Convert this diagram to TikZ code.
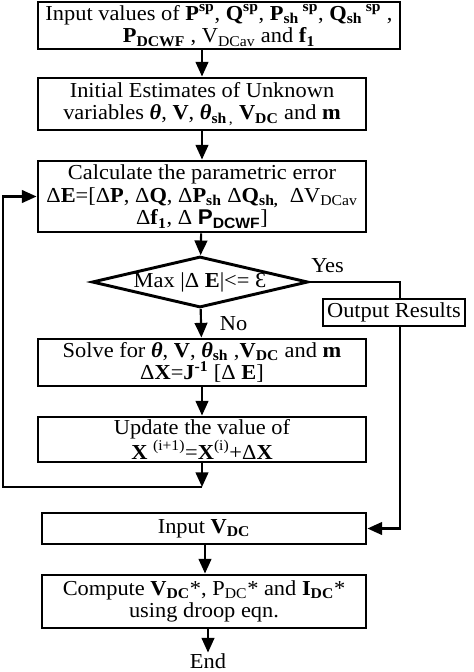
\documentclass[tikz,border=0pt]{standalone}
\usepackage{fontspec}
\setmainfont{Liberation Serif}[FakeStretch=1.05]
\setsansfont{Liberation Sans}[FakeStretch=1.05]
\usetikzlibrary{shapes.geometric,arrows.meta}
\newcommand{\bsb}[2]{\textbf{#1}\textsubscript{\textbf{#2}}}
\newcommand{\bth}{\textbf{\textit{θ}}}
\tikzset{
  blk/.style={draw,line width=2.2pt,align=center,inner sep=1pt,minimum width=#1},
  arr/.style={line width=1.6pt,-{Triangle[length=11pt,width=9.5pt]}},
  lin/.style={line width=1.6pt},
}
\begin{document}
\begin{tikzpicture}[x=0.75pt,y=-0.75pt,font=\fontsize{16}{17}\selectfont]
    \useasboundingbox (0,0) rectangle (474,672);
    \node[blk=271.5pt,minimum height=35.25pt] (inp) at (219,25.5) {Input values of \textbf{P}\textsuperscript{\textbf{sp}}, \textbf{Q}\textsuperscript{\textbf{sp}}, \bsb{P}{sh}\,\textsuperscript{\textbf{sp}}, \bsb{Q}{sh}\,\textsuperscript{\textbf{sp}} ,\\ \bsb{P}{DCWF} , V\textsubscript{DCav} and \bsb{f}{1}};
    \node[blk=246pt,minimum height=39pt] (est) at (202,104) {Initial Estimates of Unknown\\ variables \bth, \textbf{V}, \bth\textsubscript{\textbf{sh}\,,} \bsb{V}{DC} and \textbf{m}};
    \node[blk=246pt,minimum height=53.25pt] (err) at (202,196.5) {Calculate the parametric error\\ Δ\textbf{E}=[Δ\textbf{P}, Δ\textbf{Q}, Δ\bsb{P}{sh} Δ\bsb{Q}{sh,}~ ΔV\textsubscript{DCav}\\ Δ\bsb{f}{1}, Δ {\sffamily\bfseries P\textsubscript{DCWF}}]};
    \node[diamond,draw,line width=2.2pt,inner sep=0pt,minimum width=162pt,minimum height=38.25pt,
          label=center:{Max |Δ \textbf{E}|<= Ɛ}] (chk) at (200,282) {};
    \node[blk=106.5pt,minimum height=20.25pt,inner sep=1pt] (res) at (394,312.5) {Output Results};
    \node[blk=246pt,minimum height=35.25pt] (sol) at (202,362.5) {Solve for \bth, \textbf{V}, \bth\textsubscript{\textbf{sh}} ,\bsb{V}{DC} and \textbf{m}\\ Δ\textbf{X}=\textbf{J}\textsuperscript{\textbf{-1}} [Δ \textbf{E}]};
    \node[blk=246pt,minimum height=33.75pt] (upd) at (202,439.5) {Update the value of\\ \textbf{X} \textsuperscript{(i+1)}=\textbf{X}\textsuperscript{(i)}+Δ\textbf{X}};
    \node[blk=243pt,minimum height=23.25pt] (vdc) at (204,528.5) {Input \bsb{V}{DC}};
    \node[blk=243pt,minimum height=39.75pt] (drp) at (204,601.5) {Compute \bsb{V}{DC}*, P\textsubscript{DC}* and \bsb{I}{DC}*\\ using droop eqn.};
    \node[inner sep=0.5pt] (end) at (208,661) {End};
    \coordinate (jn) at (202,487);
    \coordinate (lp) at (3,487);
    \coordinate (rt) at (400,282);
    % main flow
    \draw[arr] (est.north |- inp.south) -- (est.north);
    \draw[arr] (est) -- (err);
    \draw[arr] (err) -- (chk);
    \draw[arr] (chk) -- node[right=10pt]{No} (sol);
    \draw[arr] (sol) -- (upd);
    \draw[arr] (upd) -- (jn);
    % loop back
    \draw[lin,-{Triangle[length=11pt,width=9.5pt]}] (jn) -- (lp) |- (err.west);
    % converged branch
    \draw[lin] (chk.east) -- node[pos=0.2,above=3pt]{Yes} (rt) -- (rt |- res.north);
    \draw[arr] (rt |- res.south) |- (vdc.east);
    \draw[arr] (vdc.south -| 205,0) -- (drp.north -| 205,0);
    \draw[arr] (end |- drp.south) -- (end.north);
\end{tikzpicture}
\end{document}
